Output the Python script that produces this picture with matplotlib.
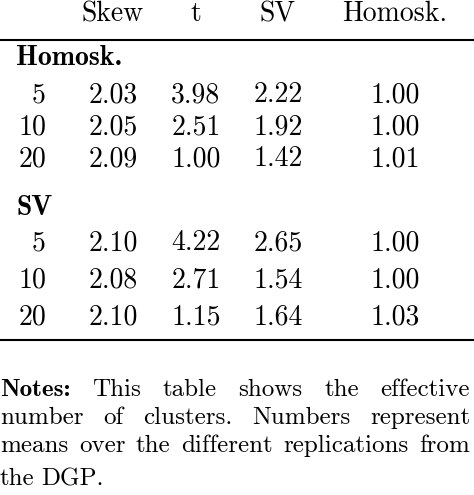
import matplotlib
matplotlib.use("Agg")
import matplotlib.pyplot as plt

columns = ["Skew", "t", "SV", "Homosk."]
groups = ["Homosk.", "SV"]
row_labels = ["5", "10", "20"]
values = {
    "Homosk.": [["2.03", "3.98", "2.22", "1.00"],
                ["2.05", "2.51", "1.92", "1.00"],
                ["2.09", "1.00", "1.42", "1.01"]],
    "SV": [["2.10", "4.22", "2.65", "1.00"],
           ["2.08", "2.71", "1.54", "1.00"],
           ["2.10", "1.15", "1.64", "1.03"]],
}
notes = [
    ["Notes:", "This", "table", "shows", "the", "effective"],
    ["number", "of", "clusters.", "Numbers", "represent"],
    ["means", "over", "the", "different", "replications", "from"],
    ["the", "DGP."],
]

W, H = 474, 495
fig = plt.figure(figsize=(W/100, H/100), dpi=100)
ax = fig.add_axes([0, 0, 1, 1])
ax.set_xlim(0, W); ax.set_ylim(H, 0); ax.axis("off")
rm = "cmr10"; bf = "cmb10"
fs = 20
colx = [113, 196, 278, 395]

for x, c in zip(colx, columns):
    ax.text(x, 14, c, ha="center", va="center", fontsize=fs, family=rm)
ax.plot([0, W], [40, 40], color="black", lw=1.5)

ys = {"Homosk.": (58, [95, 127, 159]), "SV": (208, [243, 280, 317])}
for g in groups:
    gy, rys = ys[g]
    ax.text(16, gy, g, ha="left", va="center", fontsize=fs, family=bf, weight="bold")
    for lab, ry, row in zip(row_labels, rys, values[g]):
        ax.text(46, ry, lab, ha="right", va="center", fontsize=fs, family=rm)
        for x, v in zip(colx, row):
            ax.text(x, ry, v, ha="center", va="center", fontsize=fs, family=rm)
ax.plot([0, W], [340, 340], color="black", lw=1.5)

nfs = 18
left, right = 0, 470
nys = [390, 418, 446, 479]
r = fig.canvas.get_renderer()
for i, (words, ny) in enumerate(zip(notes, nys)):
    justify = i < len(notes) - 1
    arts = []
    for j, w in enumerate(words):
        fam = bf if w == "Notes:" else rm
        arts.append(ax.text(0, ny, w, ha="left", va="center", fontsize=nfs, family=fam,
                            weight="bold" if fam == bf else "normal"))
    widths = [a.get_window_extent(r).width for a in arts]
    if justify:
        gap = (right - left - sum(widths)) / (len(words) - 1)
    else:
        gap = 7
    x = left
    for a, wdt in zip(arts, widths):
        a.set_x(x); x += wdt + gap

fig.savefig("out.png", dpi=100)
